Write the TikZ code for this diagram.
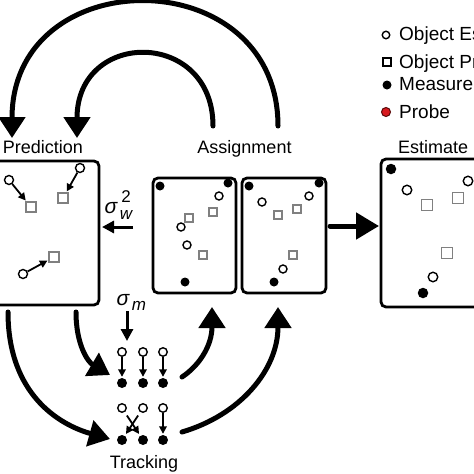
\documentclass[tikz,border=0pt]{standalone}
\usepackage{fontspec}
\setmainfont{Liberation Sans}
\usetikzlibrary{arrows.meta}
\begin{document}
\begin{tikzpicture}[x=1pt,y=-1pt,
  lab/.style={font=\fontsize{18}{20}\selectfont, inner sep=0pt},
  leg/.style={font=\fontsize{19}{20}\selectfont, inner sep=0pt},
  box/.style={draw, line width=2.8pt, rounded corners=5pt, inner sep=0pt},
  est/.style={circle, draw, line width=1.4pt, fill=white, inner sep=0pt, minimum size=#1},
  est/.default=8pt,
  pred/.style={rectangle, draw=gray, line width=1.4pt, fill=white, inner sep=0pt, minimum size=#1},
  pred/.default=8pt,
  meas/.style={circle, fill=black, inner sep=0pt, minimum size=#1},
  meas/.default=9pt,
  bigarrow/.style={line width=5pt, line cap=round, -{Triangle[length=21pt,width=26pt]}},
  medarrow/.style={line width=3pt, -{Triangle[length=12pt,width=12pt]}},
  smallarrow/.style={line width=1.8pt, shorten >=1pt, -{Triangle[length=7.5pt,width=7.5pt]}}
]
\useasboundingbox (0,0) rectangle (474,474);
\clip (0,0) rectangle (474,474);

% ---------- boxes ----------
\node[box, minimum width=109pt, minimum height=144pt] (predbox) at (44.5,233) {};
\node[box, minimum width=83pt, minimum height=115pt] (asg1) at (194.5,235.5) {};
\node[box, minimum width=84pt, minimum height=115pt] (asg2) at (284,235.5) {};
\node[box, minimum width=114pt, minimum height=148pt] (estbox) at (438,233) {};

% ---------- labels ----------
\node[lab, anchor=base] (lpred) at (43,153) {Prediction};
\node[lab, anchor=base] (lasg) at (244.5,153) {Assignment};
\node[lab, anchor=base west] (lest) at (398,153) {Estimate};
\node[lab, anchor=base] (ltrack) at (144,468) {Tracking};

% ---------- legend ----------
\node[est=7.5pt] (lg1) at (386,35) {};
\node[rectangle, draw, line width=1.3pt, inner sep=0pt, minimum size=8pt] (lg2) at (387,62) {};
\node[meas] (lg3) at (387,85) {};
\node[circle, fill={rgb,255:red,215;green,25;blue,30}, draw={rgb,255:red,90;green,10;blue,10}, line width=1pt, inner sep=0pt, minimum size=9pt] (lg4) at (386,112) {};
\node[leg, anchor=base west] (lt1) at (399,40) {Object Estimate};
\node[leg, anchor=base west] (lt2) at (399,68) {Object Prediction};
\node[leg, anchor=base west] (lt3) at (399,90) {Measurement};
\node[leg, anchor=base west] (lt4) at (399,118) {Probe};

% ---------- prediction contents ----------
\node[est=9pt] (pc1) at (9,180) {};
\node[pred=10pt] (ps1) at (31,207) {};
\node[est=9pt] (pc2) at (80,168) {};
\node[pred=10pt] (ps2) at (63,198) {};
\node[est=9pt] (pc3) at (23,274) {};
\node[pred=10pt] (ps3) at (54,257) {};
\draw[smallarrow] (pc1) -- (ps1);
\draw[smallarrow] (pc2) -- (ps2);
\draw[smallarrow] (pc3) -- (ps3);

% ---------- assignment 1 ----------
\node[meas=9pt] (a1d1) at (160,186) {};
\node[meas=9pt] (a1d2) at (228,183) {};
\node[meas=9pt] (a1d3) at (185,282) {};
\node[est] (a1c1) at (219,196) {};
\node[est] (a1c2) at (181,227) {};
\node[est] (a1c3) at (187,245) {};
\node[pred] (a1s1) at (213,212) {};
\node[pred] (a1s2) at (189,218) {};
\node[pred] (a1s3) at (203,255) {};

% ---------- assignment 2 ----------
\node[meas=9pt] (a2d1) at (249,186) {};
\node[meas=9pt] (a2d2) at (319,183) {};
\node[meas=9pt] (a2d3) at (274,282) {};
\node[est] (a2c1) at (262,202) {};
\node[est] (a2c2) at (309,196) {};
\node[est] (a2c3) at (283,269) {};
\node[pred] (a2s1) at (297,209) {};
\node[pred] (a2s2) at (278,215) {};
\node[pred] (a2s3) at (293,255) {};

% ---------- estimate ----------
\node[meas=10.5pt] (ed1) at (391,169) {};
\node[meas=10.5pt] (ed2) at (423,293) {};
\node[est=9.5pt] (ec1) at (407,190) {};
\node[est=9.5pt] (ec2) at (468,181) {};
\node[est=9.5pt] (ec3) at (433,277) {};
\node[pred=11pt] (es1) at (427,205) {};
\node[pred=11pt] (es2) at (458,198) {};
\node[pred=11pt] (es3) at (447,253) {};

% ---------- tracking ----------
\node[est=8.5pt] (t1c1) at (122,352) {};
\node[est=8.5pt] (t1c2) at (143,352) {};
\node[est=8.5pt] (t1c3) at (163,352) {};
\node[meas=10pt] (t1d1) at (122,383) {};
\node[meas=10pt] (t1d2) at (143,383) {};
\node[meas=10pt] (t1d3) at (163,383) {};
\node[est=8.5pt] (t2c1) at (122,408) {};
\node[est=8.5pt] (t2c2) at (143,408) {};
\node[est=8.5pt] (t2c3) at (163,408) {};
\node[meas=10pt] (t2d1) at (122,440) {};
\node[meas=10pt] (t2d2) at (143,440) {};
\node[meas=10pt] (t2d3) at (163,440) {};
\draw[smallarrow] (t1c1) -- (t1d1);
\draw[smallarrow] (t1c2) -- (t1d2);
\draw[smallarrow] (t1c3) -- (t1d3);
\draw[smallarrow, shorten <=4pt, shorten >=2pt] (t2c1) -- (t2d2);
\draw[smallarrow, shorten <=4pt, shorten >=2pt] (t2c2) -- (t2d1);
\draw[smallarrow] (t2c3) -- (t2d3);

% ---------- sigma labels ----------
\node[anchor=base, inner sep=0pt, font=\fontsize{21}{21}\selectfont\itshape] (sw) at (111,213) {σ};
\node[anchor=base, inner sep=0pt, font=\fontsize{17}{17}\selectfont\itshape] (sww) at (126,219) {w};
\node[anchor=base, inner sep=0pt, font=\fontsize{17}{17}\selectfont] (sw2) at (126,202) {2};
\node[anchor=base, inner sep=0pt, font=\fontsize{21}{21}\selectfont\itshape] (sm) at (123,305) {σ};
\node[anchor=base, inner sep=0pt, font=\fontsize{17}{17}\selectfont\itshape] (smm) at (139,310) {m};

\coordinate (swA) at (133,227);
\coordinate (swB) at (102,227);
\draw[medarrow] (swA) -- (swB);
\coordinate (smA) at (127,311);
\coordinate (smB) at (127,341);
\draw[medarrow] (smA) -- (smB);

% ---------- arches ----------
\coordinate (arR1) at (278,126);
\coordinate (arL1) at (12,138);
\coordinate (arR2) at (213,126);
\coordinate (arL2) at (77,138);
\draw[bigarrow] (arR1) .. controls (278,-40) and (12,-40) .. (arL1);
\draw[bigarrow] (arR2) .. controls (213,29) and (77,29) .. (arL2);

% ---------- assignment -> estimate ----------
\coordinate (ae1) at (330,226);
\coordinate (ae2) at (379,226);
\draw[line width=5pt, line cap=round, -{Triangle[length=23pt,width=26pt]}] (ae1) -- (ae2);

% ---------- lower curves ----------
\coordinate (cA0) at (76,312);
\coordinate (cA1) at (110,375);
\coordinate (cB0) at (8,312);
\coordinate (cB1) at (110,439);
\coordinate (cC0) at (182,377);
\coordinate (cC1) at (212,307);
\coordinate (cD0) at (182,432);
\coordinate (cD1) at (278,307);
\draw[bigarrow] (cA0) .. controls (76,345) and (88,362) .. (cA1);
\draw[bigarrow] (cB0) .. controls (8,395) and (60,425) .. (cB1);
\draw[bigarrow] (cC0) .. controls (200,365) and (212,345) .. (cC1);
\draw[bigarrow] (cD0) .. controls (240,415) and (278,370) .. (cD1);
\end{tikzpicture}
\end{document}
